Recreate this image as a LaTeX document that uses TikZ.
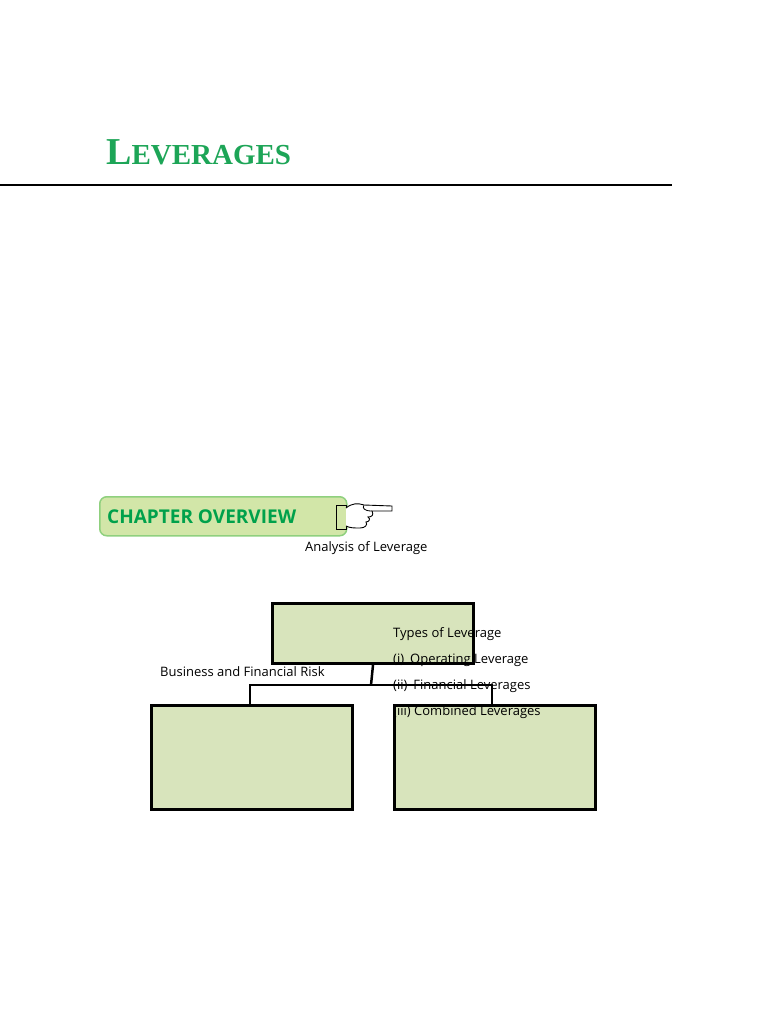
\documentclass[tikz,border=0pt]{standalone}
\usepackage{fontspec}
\setsansfont{Open Sans}
\setmainfont{Liberation Serif}
\begin{document}
\begin{tikzpicture}[x=1pt,y=-1pt,
  box/.style={draw=black,line width=3pt,fill=boxfill},
  lbl/.style={anchor=base west,inner sep=0pt,font=\sffamily\fontsize{13}{15}\selectfont}]
\definecolor{boxfill}{HTML}{D8E4BC}
\definecolor{ttl}{HTML}{1DA557}
\definecolor{ovfill}{HTML}{D2E6A8}
\definecolor{ovborder}{HTML}{8FD07E}
\definecolor{ovtext}{HTML}{00A14B}
\useasboundingbox (0,0) rectangle (768,1024);
\node[anchor=base west,inner sep=0pt,text=ttl,font=\bfseries\fontsize{38}{40}\selectfont] (title) at (106,165) {L\fontsize{29}{30}\selectfont EVERAGES};
\draw[line width=2pt] (0,185) -- (672,185);
\node[draw=ovborder,line width=1.5pt,fill=ovfill,rounded corners=7pt,minimum width=247pt,minimum height=39pt,anchor=north west] (ov) at (99,496) {};
\node[anchor=west,inner sep=0pt,text=ovtext,font=\sffamily\bfseries\fontsize{19}{21}\selectfont] (ovt) at (107,517) {CHAPTER OVERVIEW};
\draw[fill=ovfill,line width=1pt] (336,505) rectangle (346,529);
% hand
\draw[line width=0.9pt,fill=white] (346,508) .. controls (352,503) and (358,503) .. (364,505) -- (392,506) -- (392,511) -- (372,511) .. controls (374,515) and (372,517) .. (368,517) .. controls (371,519) and (369,522) .. (366,522) .. controls (368,525) and (365,528) .. (360,528) .. controls (354,528) and (350,528) .. (346,526);
\draw[line width=0.8pt] (364,505) .. controls (362,508) and (364,511) .. (372,511);
\node[lbl] (ana) at (305,551) {Analysis of Leverage};
\node[box,minimum width=201pt,minimum height=60pt,anchor=north west] (top) at (271,602) {};
\node[box,minimum width=201pt,minimum height=104pt,anchor=north west] (left) at (150,704) {};
\node[box,minimum width=201pt,minimum height=104pt,anchor=north west] (right) at (393,704) {};
\coordinate (j) at (371,685);
\draw[line width=2.5pt] (top.south) -- (j);
\draw[line width=2.5pt] (250,704) -- (250,685) -- (492,685) -- (492,704);
\node[lbl] (bfr) at (160,676) {Business and Financial Risk};
\node[lbl] (t0) at (393,637) {Types of Leverage};
\node[lbl] (t1) at (393,663) {(i)\hspace{6pt}Operating Leverage};
\node[lbl] (t2) at (393,689) {(ii)\hspace{6pt}Financial Leverages};
\node[lbl] (t3) at (393,715) {(iii) Combined Leverages};
\end{tikzpicture}
\end{document}
